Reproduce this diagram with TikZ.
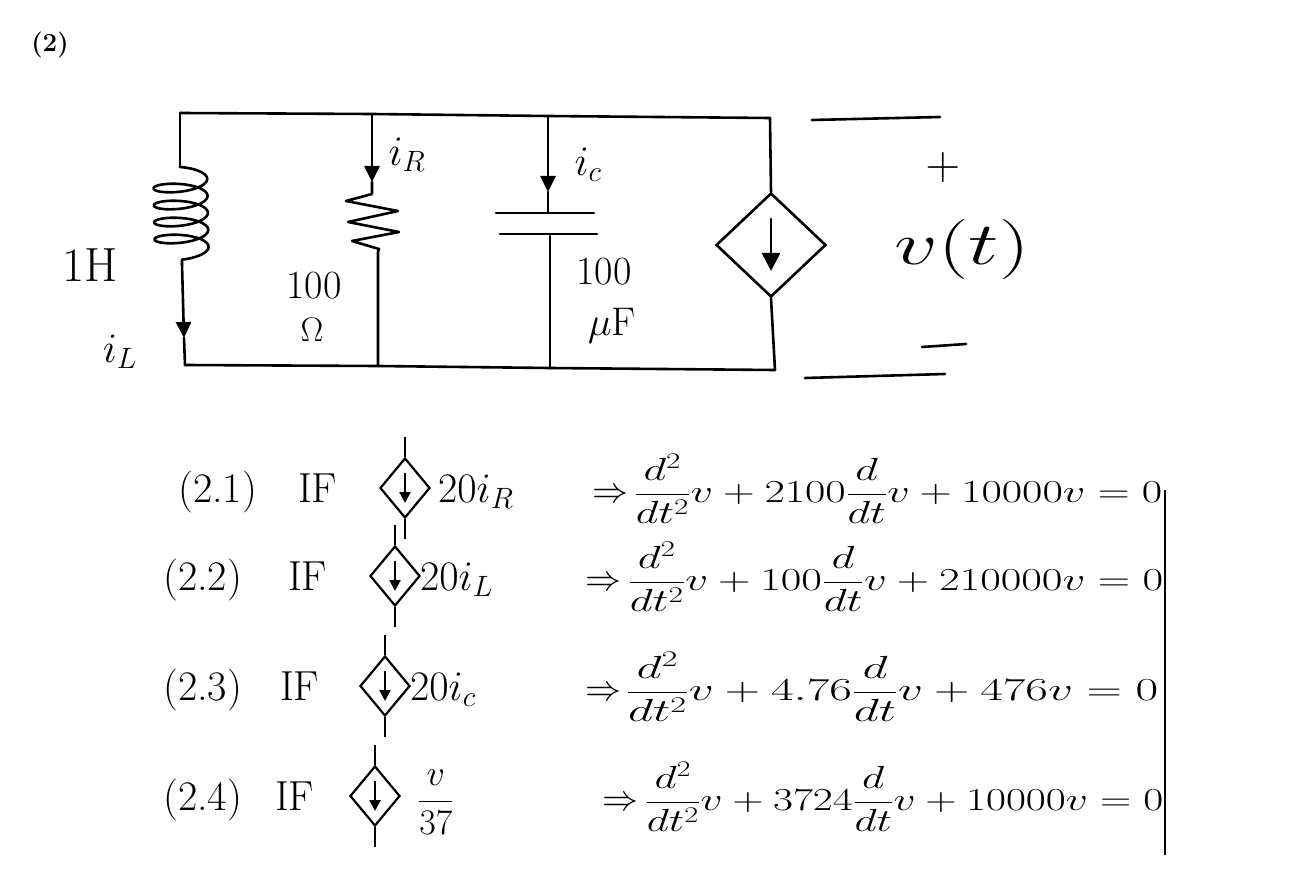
\RequirePackage{fix-cm}
\documentclass[tikz,border=0pt]{standalone}
\usepackage{amsmath}
\usepackage{graphicx}
\usetikzlibrary{arrows.meta,decorations.pathmorphing,shapes.geometric}
\begin{document}
\begin{tikzpicture}[x=1pt,y=-1pt,
  wire/.style={line width=2.6pt,line cap=round,line join=round},
  curarrow/.style={wire,-{Triangle[length=16pt,width=15pt]}},
  lbl/.style={inner sep=0pt,font=\fontsize{42}{48}\selectfont},
  vallbl/.style={inner sep=0pt,font=\fontsize{40}{44}\selectfont},
  eq/.style={inner sep=0pt,anchor=base west,font=\fontsize{42}{48}\selectfont},
  bigdia/.style={draw,diamond,line width=2.6pt,minimum width=110pt,minimum height=104pt,inner sep=0pt},
  smalldia/.style={draw,diamond,line width=2.2pt,minimum width=50pt,minimum height=60pt,inner sep=0pt},
]
\useasboundingbox (0,0) rectangle (1312,893);
% title
\node[inner sep=0pt,font=\fontsize{26}{30}\selectfont\bfseries] (title) at (50,45) {(2)};

% corners
\coordinate (TL) at (180,113);
\coordinate (TR) at (770,118);
\coordinate (BL) at (185,365);
\coordinate (BR) at (775,370);
\coordinate (TRt) at (372,114);
\coordinate (TCt) at (548,116);
\coordinate (BRt) at (378,366);
\coordinate (BCt) at (550,368);
\draw[wire] (TL) -- (TRt) -- (TCt) -- (TR);
\draw[wire] (BL) -- (BRt) -- (BCt) -- (BR);

% inductor
\coordinate (L1) at (180,166);
\coordinate (L2) at (182,264);
\coordinate (La) at (184,338);
\draw[wire] (TL) -- (L1);
\draw[wire,decorate,decoration={coil,aspect=0.3,segment length=17pt,amplitude=27pt,pre length=1pt,post length=1pt}] (L1) -- (L2);
\draw[curarrow] (L2) -- (La);
\draw[wire] (La) -- (BL);
\node[lbl,font=\fontsize{48}{52}\selectfont] (LH) at (90,265) {1H};
\node[lbl] (iL) at (120,352) {$i_L$};

% resistor
\coordinate (Ra) at (372,182);
\coordinate (R1) at (372,194);
\coordinate (R2) at (378,252);
\draw[curarrow] (TRt) -- (Ra);
\draw[wire] (Ra) -- (R1) -- (346,201) -- (398,211) -- (348,222) -- (399,232) -- (352,241) -- (379,249) -- (R2) -- (BRt);
\node[lbl] (iR) at (407,155) {$i_R$};
\node[vallbl] (R100) at (314,286) {100};
\node[vallbl,font=\fontsize{34}{38}\selectfont] (Rohm) at (312,330) {$\Omega$};

% capacitor
\coordinate (Ca) at (548,192);
\coordinate (C1) at (548,213);
\coordinate (C2) at (550,236);
\draw[curarrow] (TCt) -- (Ca);
\draw[wire] (Ca) -- (C1);
\draw[wire] (496,213) -- (594,213);
\draw[wire] (500,234) -- (597,234);
\draw[wire] (C2) -- (BCt);
\node[lbl] (iC) at (588,165) {$i_c$};
\node[vallbl] (C100) at (604,272) {100};
\node[vallbl] (CuF) at (612,326) {$\mu$F};

% dependent source
\node[bigdia] (S) at (771,245) {};
\draw[wire] (TR) -- (S.north);
\draw[wire] (S.south) -- (BR);
\draw[wire,-{Triangle[length=18pt,width=18pt]}] ([yshift=26pt]S.center) -- ([yshift=-26pt]S.center);

% output terminals
\coordinate (O1) at (812,120);
\coordinate (O2) at (940,117);
\coordinate (O3) at (805,378);
\coordinate (O4) at (945,374);
\draw[wire] (O1) -- (O2);
\draw[wire] (O3) -- (O4);
\node[lbl,font=\fontsize{48}{52}\selectfont] (plus) at (943,168) {$+$};
\node[lbl,font=\fontsize{60}{66}\selectfont] (vt) at (962,250) {\resizebox{135pt}{\height}{$v(t)$}};
\coordinate (M1) at (922,347);
\coordinate (M2) at (966,344);
\draw[wire] (M1) -- (M2);

% equations
\foreach \r/\yb/\xl/\xi/\xd/\xs/\xa/\xe/\w/\src/\eqn in {
  1/502/178/298/405/438/592/634/528/{$20i_R$}/{$\dfrac{d^2}{dt^2}v+2100\dfrac{d}{dt}v+10000v=0$},
  2/590/163/288/395/420/585/628/535/{$20i_L$}/{$\dfrac{d^2}{dt^2}v+100\dfrac{d}{dt}v+210000v=0$},
  3/700/163/280/385/410/585/626/532/{$20i_c$}/{$\dfrac{d^2}{dt^2}v+4.76\dfrac{d}{dt}v+476v=0$},
  4/810/163/275/375/418/602/645/518/{\fontsize{36}{40}\selectfont$\dfrac{v}{37}$}/{$\dfrac{d^2}{dt^2}v+3724\dfrac{d}{dt}v+10000v=0$}} {
  \node[eq] (lab\r) at (\xl,\yb) {(2.\r)};
  \node[eq] (if\r) at (\xi,\yb) {IF};
  \node[smalldia] (d\r) at (\xd,\yb-14) {};
  \draw[line width=2.2pt] (d\r.north) -- ++(0,-20);
  \draw[line width=2.2pt] (d\r.south) -- ++(0,20);
  \draw[line width=2.2pt,-{Triangle[length=11pt,width=11pt]}] ([yshift=15pt]d\r.center) -- ([yshift=-15pt]d\r.center);
  \node[eq] (src\r) at (\xs,\yb) {\src};
  \node[eq,font=\fontsize{36}{40}\selectfont] (imp\r) at (\xa,\yb) {$\Rightarrow$};
  \node[eq,font=\fontsize{32}{36}\selectfont] (eqn\r) at (\xe,\yb) {\resizebox{\w pt}{\height}{\eqn}};
}
\coordinate (V1) at (1165,490);
\coordinate (V2) at (1165,855);
\draw[line width=1.5pt] (V1) -- (V2);
\end{tikzpicture}
\end{document}
